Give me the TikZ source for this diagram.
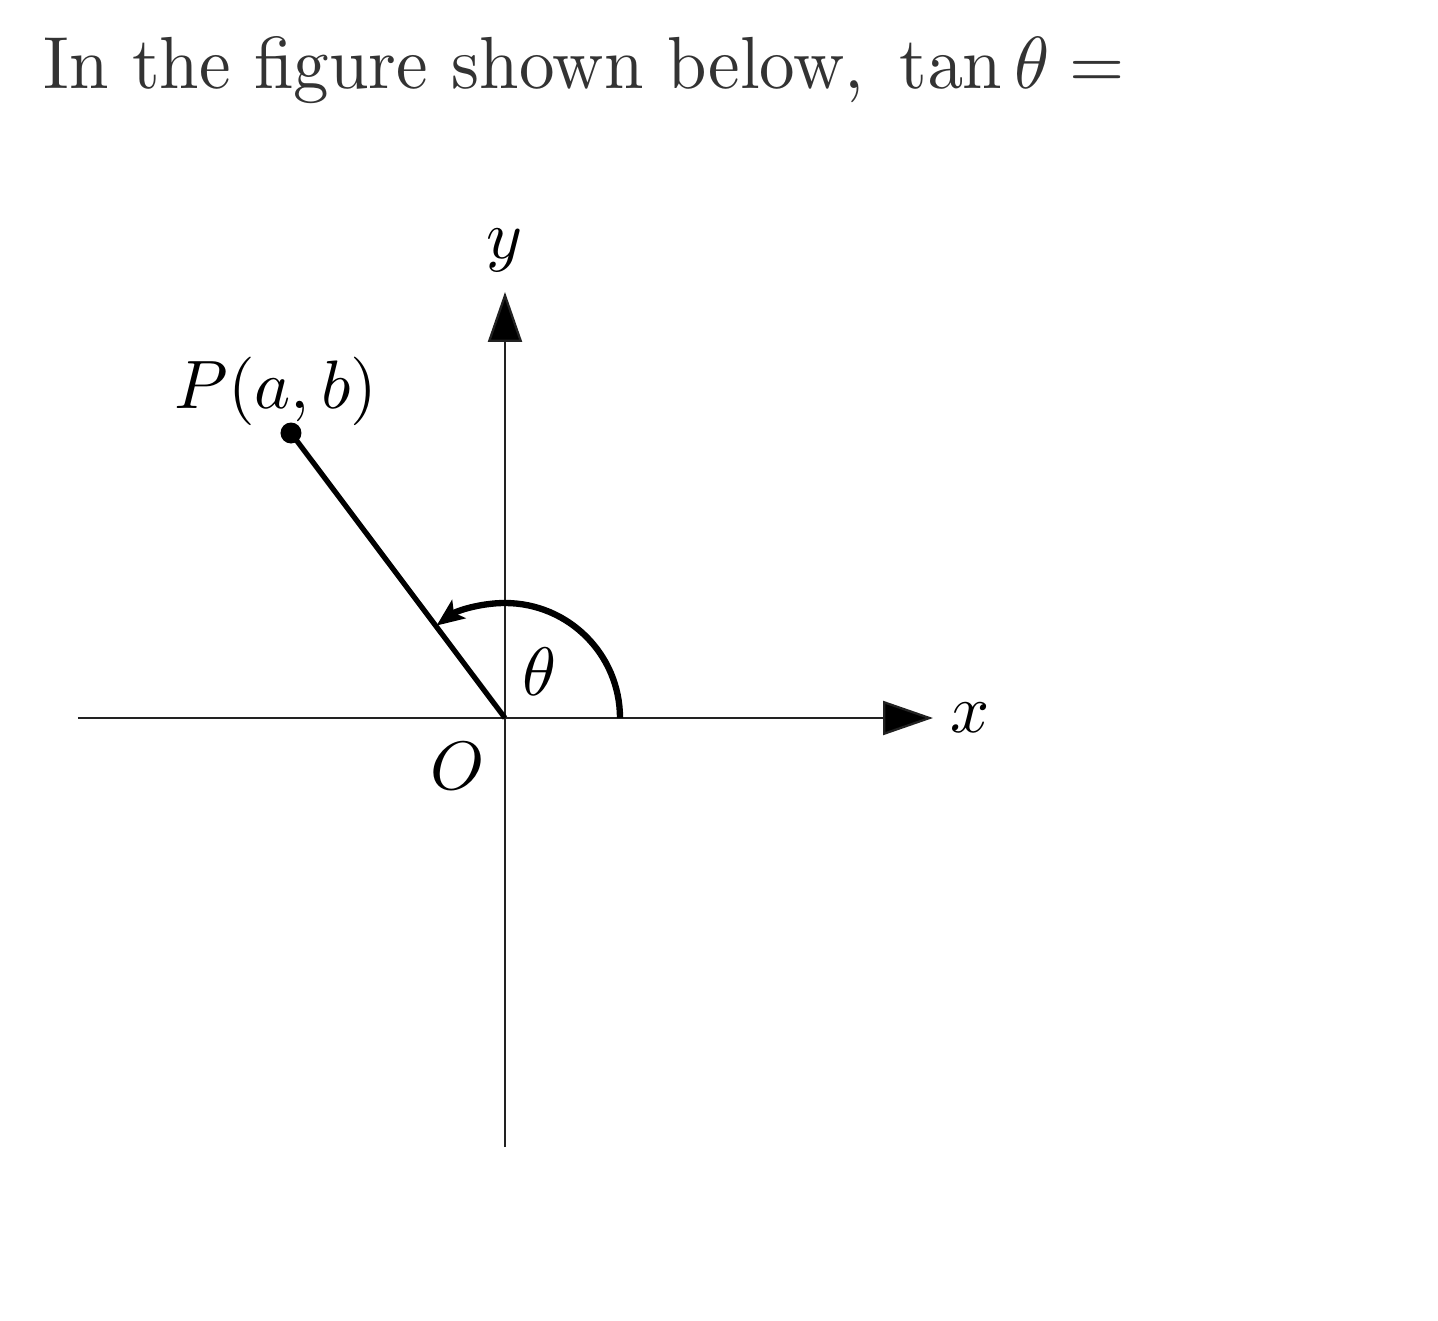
\documentclass[tikz,border=0pt]{standalone}
\usepackage{xcolor}
\usepackage{amsmath}
\usetikzlibrary{arrows.meta, calc, positioning}
\definecolor{titlegray}{HTML}{333333}
\definecolor{axisgray}{HTML}{222222}

\tikzset{
  axisline/.style={axisgray, line width=1.3pt, -{Triangle[length=1cm, width=0.68cm, fill=black]}},
  rayline/.style={black, line width=3pt},
  anglearc/.style={black, line width=3.6pt, -{Stealth[length=0.55cm, width=0.45cm, inset=0.12cm]}},
  labeltext/.style={inner sep=0pt, scale=3.9, transform shape},
}

\begin{document}
\begin{tikzpicture}[x=0.02cm, y=0.02cm]
      \useasboundingbox (-505, -602) rectangle (933, 718);

      \node[anchor=base west, inner sep=0pt, text=titlegray, xscale=4.04, yscale=4.2, transform shape] (title) at (-463, 630) {In the figure shown below,\hspace{5pt}$\tan\theta =$};

      % axes
      \coordinate (O) at (0, 0);
      \coordinate (xl) at (-427, 0);
      \coordinate (xr) at (428, 0);
      \coordinate (yb) at (0, -429);
      \coordinate (yt) at (0, 426);
      \draw[axisline] (xl) -- (xr);
      \draw[axisline] (yb) -- (yt);

      \node[labeltext] (xlab) at (465, 0) {$x$};
      \node[labeltext] (ylab) at (0, 468) {$y$};
      \node[labeltext] (olab) at (-47, -48) {$O$};

      % the ray and the angle
      \node[circle, fill=black, inner sep=0pt, minimum size=0.42cm] (P) at (-214, 285) {};
      \draw[rayline] (O) -- (P.center);
      \node[labeltext] (plab) at (-229, 327) {$P(a, b)$};

      \draw[anglearc] (115, 0) arc (0:126.5:115);
      \node[labeltext] (theta) at (35, 46) {$\theta$};

    \end{tikzpicture}
\end{document}
